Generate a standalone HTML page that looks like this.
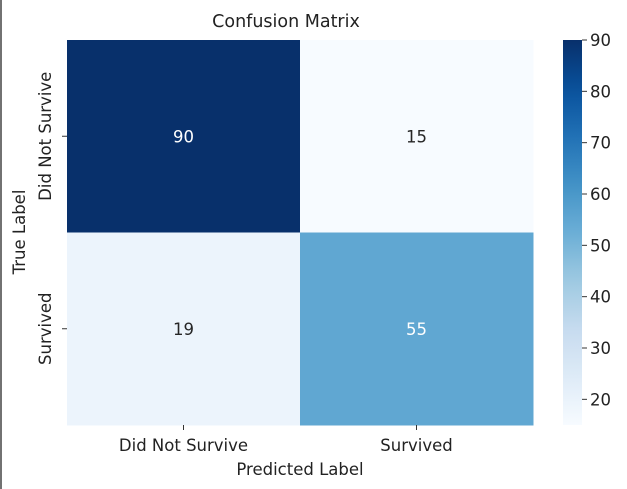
<!DOCTYPE html>
<html><head><meta charset="utf-8"><style>
html,body{margin:0;padding:0;background:#fff;width:627px;height:489px;overflow:hidden}
svg text{font-family:"DejaVu Sans","Liberation Sans",sans-serif;fill:#222}
</style></head><body>
<svg id="chart" width="627" height="489">
<line x1="1" y1="0" x2="1" y2="489" stroke="#444" stroke-width="1.5"/>
<text x="286" y="27" text-anchor="middle" font-size="17.5">Confusion Matrix</text>
<text x="300" y="475" text-anchor="middle" font-size="16.5">Predicted Label</text>
<text transform="translate(25,232) rotate(-90)" text-anchor="middle" font-size="16.5">True Label</text>
<g id="cells"></g><g id="cbar"></g>
</svg>
<script>
const rowLabels=["Did Not Survive","Survived"];
const colLabels=["Did Not Survive","Survived"];
const row0=[90,15];
const row1=[19,55];
const cbarTicks=[20,30,40,50,60,70,80,90];
const matrix=[row0,row1];
const NS="http://www.w3.org/2000/svg";
const FS=16.5;
const stops=[[247,251,255],[222,235,247],[198,219,239],[158,202,225],[107,174,214],[66,146,198],[33,113,181],[8,81,156],[8,48,107]];
function blues(t){t=Math.max(0,Math.min(1,t));const p=t*(stops.length-1);const i=Math.min(Math.floor(p),stops.length-2);const f=p-i;
const c=stops[i].map((v,k)=>Math.round(v+(stops[i+1][k]-v)*f));return `rgb(${c[0]},${c[1]},${c[2]})`;}
const all=matrix.flat();const vmin=Math.min(...all),vmax=Math.max(...all);
const X0=67,X1=533,Y0=40,Y1=425;
const cw=(X1-X0)/colLabels.length,ch=(Y1-Y0)/rowLabels.length;
function mk(tag,attrs,parent){const e=document.createElementNS(NS,tag);for(const k in attrs)e.setAttribute(k,attrs[k]);parent.appendChild(e);return e;}
const cells=document.getElementById('cells');
matrix.forEach((row,r)=>row.forEach((v,c)=>{
 const t=(v-vmin)/(vmax-vmin);
 const rect=mk('rect',{x:X0+c*cw,y:Y0+r*ch,width:cw+0.5,height:ch+0.5,fill:blues(t)},cells);
 
 
 const tx=mk('text',{x:X0+(c+.5)*cw,y:Y0+(r+.5)*ch+6,'text-anchor':'middle','font-size':FS},cells);
 tx.style.fill=t>0.5?'#fff':'#262626';tx.textContent=v;
 
 
}));
colLabels.forEach((l,c)=>{const x=X0+(c+.5)*cw;
 const tk=mk('line',{x1:x,x2:x,y1:Y1,y2:Y1+5,stroke:'#333'},cells);
 
 
 const t=mk('text',{x:x,y:Y1+26,'text-anchor':'middle','font-size':FS},cells);t.textContent=l;
 
 });
rowLabels.forEach((l,r)=>{const y=Y0+(r+.5)*ch;
 const tk=mk('line',{x1:X0-5,x2:X0,y1:y,y2:y,stroke:'#333'},cells);
 
 
 const t=mk('text',{transform:`translate(${X0-16},${y}) rotate(-90)`,'text-anchor':'middle','font-size':FS},cells);t.textContent=l;
 
 });
const cb=document.getElementById('cbar');const CX=563,CW=19;
const defs=mk('defs',{},cb);const g=mk('linearGradient',{id:'bg',x1:0,y1:1,x2:0,y2:0},defs);
for(let i=0;i<=20;i++)mk('stop',{offset:i/20,'stop-color':blues(i/20)},g);
const cr=mk('rect',{x:CX,y:Y0,width:CW,height:Y1-Y0,fill:'url(#bg)'},cb);


cbarTicks.forEach(v=>{const y=Y1-(v-vmin)/(vmax-vmin)*(Y1-Y0);
 const tk=mk('line',{x1:CX+CW,x2:CX+CW+5,y1:y,y2:y,stroke:'#333'},cb);
 
 
 const t=mk('text',{x:CX+CW+8,y:y+6,'font-size':FS},cb);t.textContent=v;
 
 });
</script>
</body></html>
